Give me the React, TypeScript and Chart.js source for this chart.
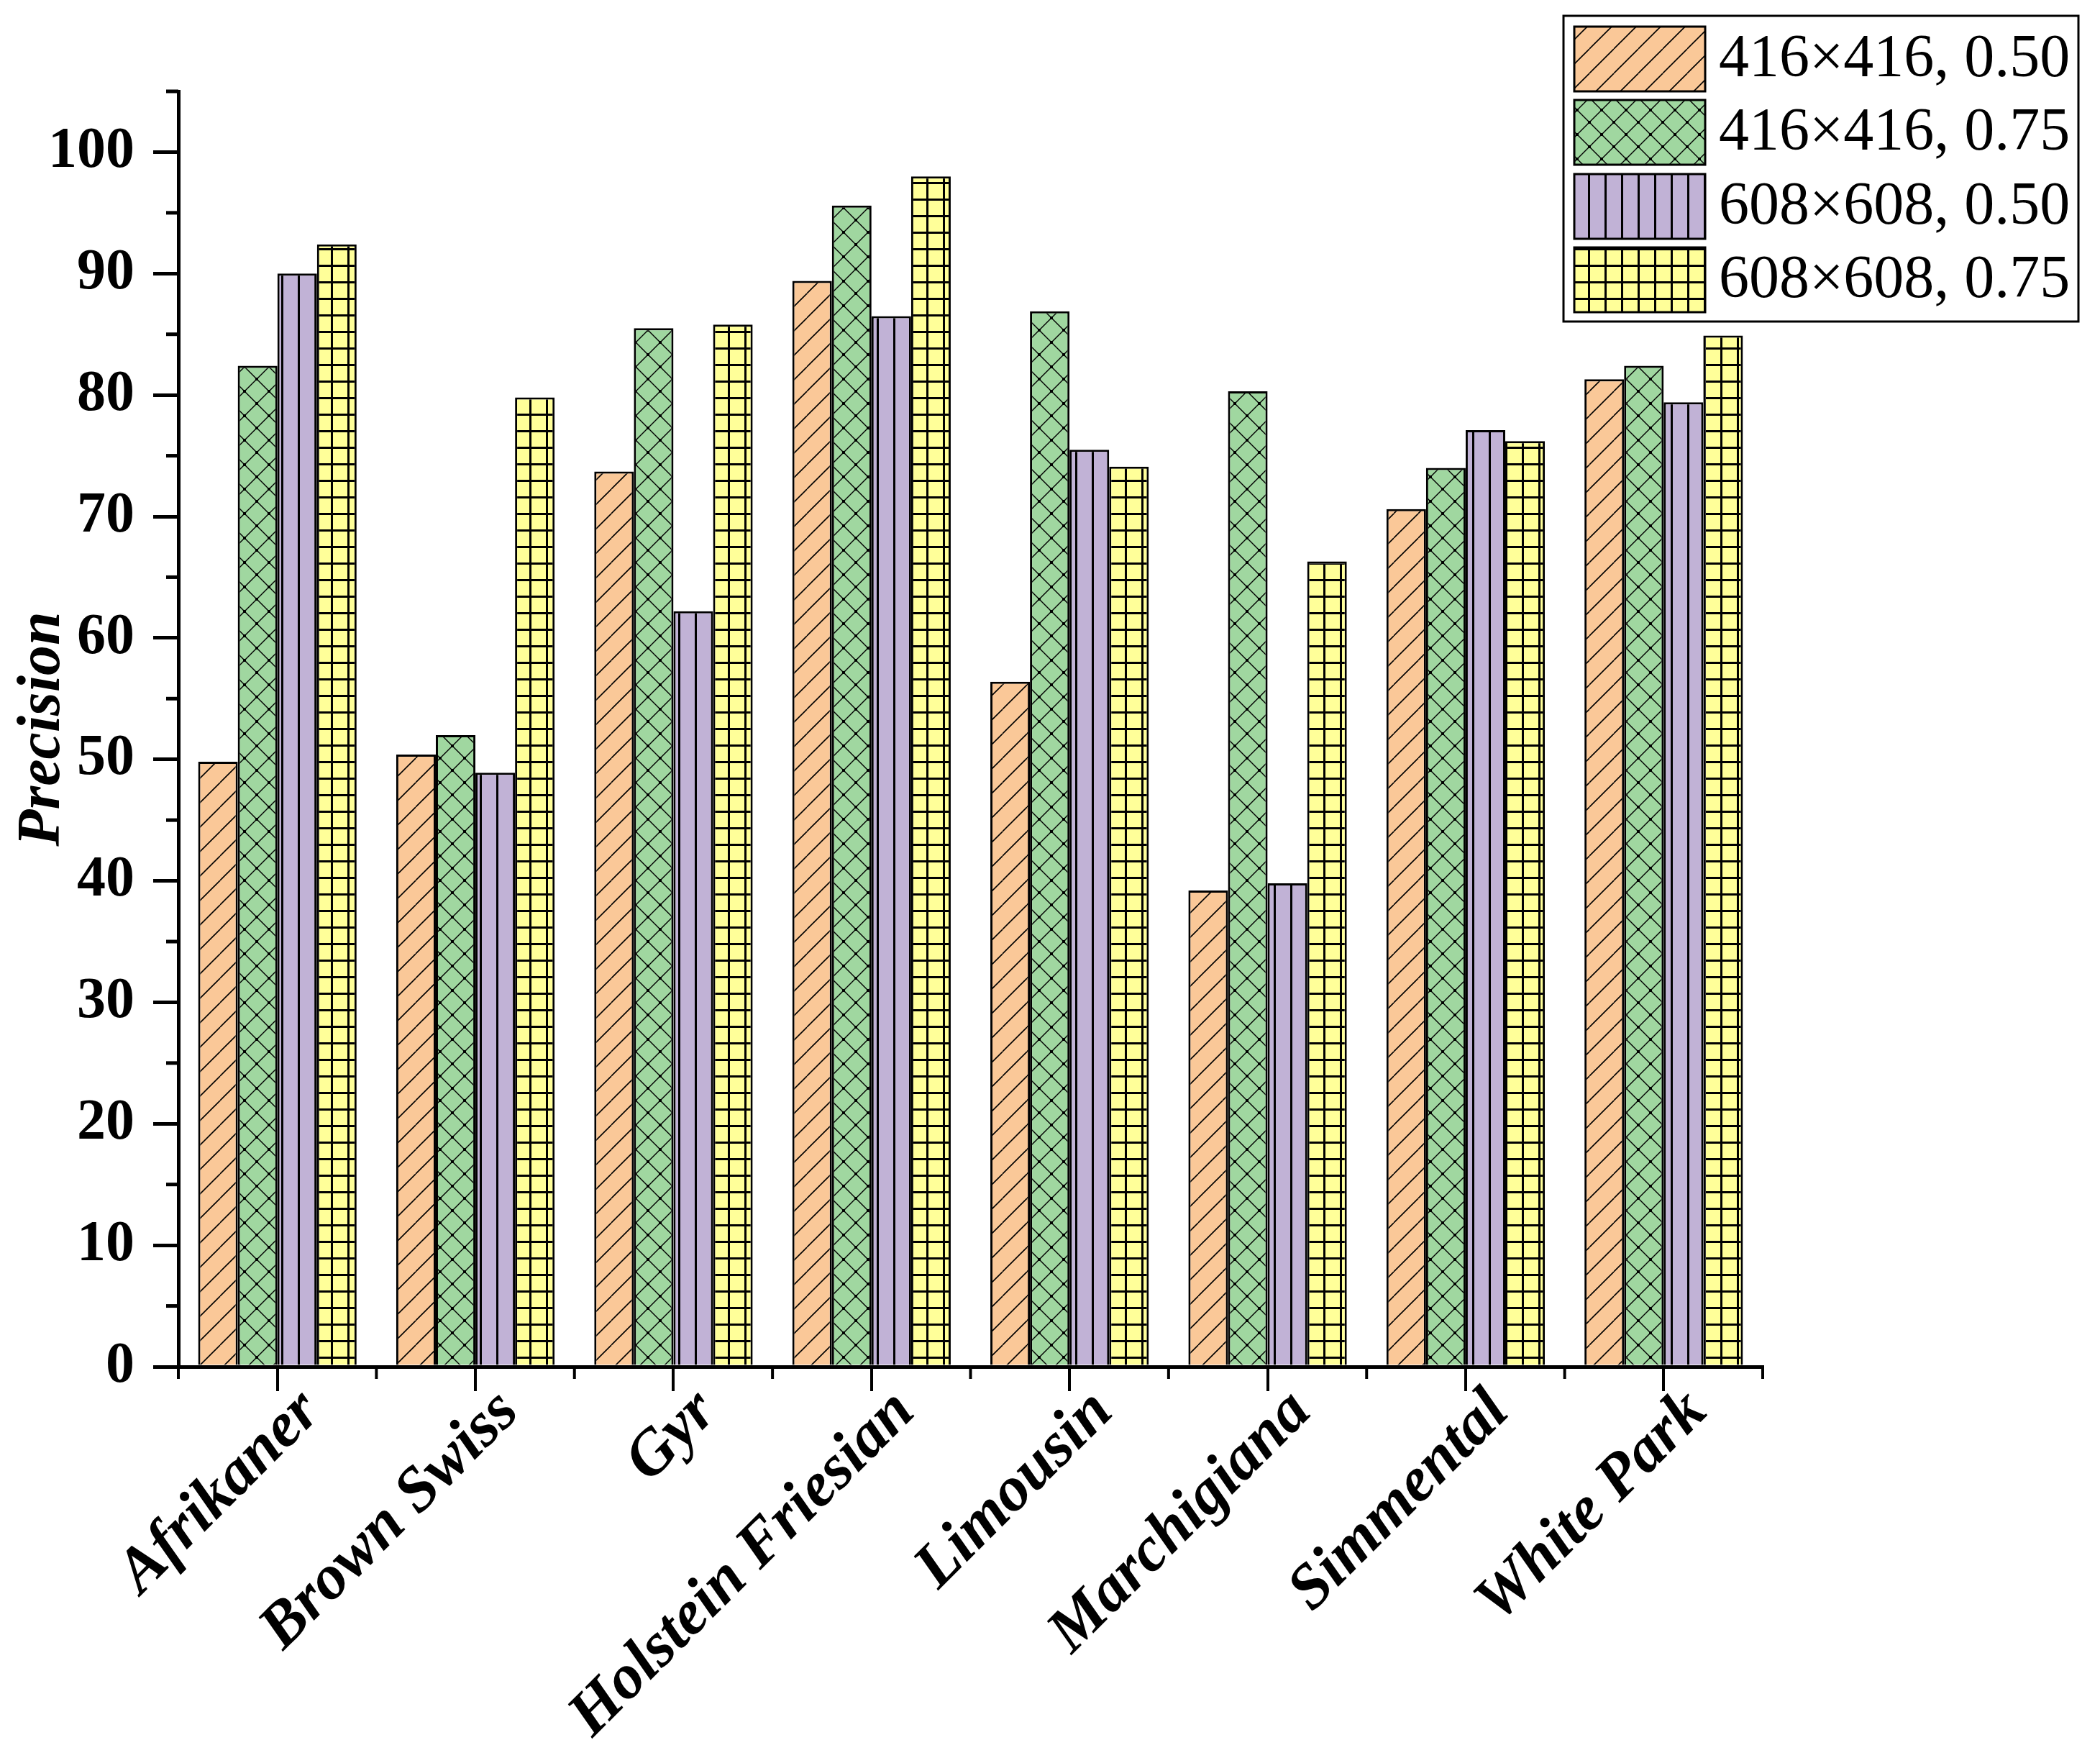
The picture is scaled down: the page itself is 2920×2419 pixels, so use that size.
import React, { useEffect, useRef } from "react";
import { Chart, registerables } from "chart.js";

Chart.register(...registerables);

const categories = [
  "Afrikaner",
  "Brown Swiss",
  "Gyr",
  "Holstein Friesian",
  "Limousin",
  "Marchigiana",
  "Simmental",
  "White Park",
];
const seriesLabels = ["416×416, 0.50", "416×416, 0.75", "608×608, 0.50", "608×608, 0.75"];
const s416_050 = [49.8, 50.4, 73.7, 89.4, 56.4, 39.2, 70.6, 81.3];
const s416_075 = [82.4, 52.0, 85.5, 95.6, 86.9, 80.3, 74.0, 82.4];
const s608_050 = [90.0, 48.9, 62.2, 86.5, 75.5, 39.8, 77.1, 79.4];
const s608_075 = [92.4, 79.8, 85.8, 98.0, 74.1, 66.3, 76.2, 84.9];
const yTickValues = [0, 10, 20, 30, 40, 50, 60, 70, 80, 90, 100];
const yMinorValues = [5, 15, 25, 35, 45, 55, 65, 75, 85, 95, 105];

const W = 2920;
const H = 2419;

function makeTile(w: number, h: number, draw: (c: CanvasRenderingContext2D) => void) {
  const cv = document.createElement("canvas");
  cv.width = w;
  cv.height = h;
  const c = cv.getContext("2d")!;
  draw(c);
  return cv;
}

function patterns(ctx: CanvasRenderingContext2D) {
  const diag = makeTile(34, 34, (c) => {
    c.fillStyle = "rgb(250,200,152)";
    c.fillRect(0, 0, 34, 34);
    c.strokeStyle = "#000";
    c.lineWidth = 1.6;
    for (const o of [-34, 0, 34]) {
      c.beginPath();
      c.moveTo(0 + o, 34);
      c.lineTo(34 + o, 0);
      c.stroke();
    }
  });
  const cross = makeTile(34, 34, (c) => {
    c.fillStyle = "rgb(160,215,160)";
    c.fillRect(0, 0, 34, 34);
    c.strokeStyle = "#000";
    c.lineWidth = 1.4;
    for (const o of [-34, 0, 34]) {
      c.beginPath();
      c.moveTo(0 + o, 34);
      c.lineTo(34 + o, 0);
      c.stroke();
      c.beginPath();
      c.moveTo(0 + o, 0);
      c.lineTo(34 + o, 34);
      c.stroke();
    }
    c.fillStyle = "#000";
    for (const [x, y] of [[17, 17], [0, 0], [34, 0], [0, 34], [34, 34]]) {
      c.fillRect(x - 2, y - 2, 4, 4);
    }
  });
  const vert = makeTile(23, 4, (c) => {
    c.fillStyle = "rgb(193,178,214)";
    c.fillRect(0, 0, 23, 4);
    c.fillStyle = "#000";
    c.fillRect(0, 0, 3, 4);
  });
  const grid = makeTile(23, 23, (c) => {
    c.fillStyle = "rgb(255,255,153)";
    c.fillRect(0, 0, 23, 23);
    c.fillStyle = "#000";
    c.fillRect(0, 0, 3, 23);
    c.fillRect(0, 0, 23, 3);
  });
  return [diag, cross, vert, grid].map((t) => ctx.createPattern(t, "repeat")!);
}

const minorTicks = {
  id: "minorTicks",
  afterDraw(chart: any) {
    const { ctx, scales } = chart;
    const x = scales.x;
    const y = scales.y;
    ctx.save();
    ctx.strokeStyle = "#000";
    ctx.lineWidth = 5;
    for (const v of yMinorValues) {
      const py = y.getPixelForValue(v);
      ctx.beginPath();
      ctx.moveTo(x.left, py);
      ctx.lineTo(x.left - 17, py);
      ctx.stroke();
    }
    ctx.lineWidth = 4;
    for (let i = 0; i <= categories.length; i++) {
      const px = x.getPixelForValue(i - 0.5);
      ctx.beginPath();
      ctx.moveTo(px, y.bottom);
      ctx.lineTo(px, y.bottom + 17);
      ctx.stroke();
    }
    ctx.restore();
  },
};

const customLegend = {
  id: "customLegend",
  afterDraw(chart: any) {
    const { ctx } = chart;
    const ds = chart.data.datasets;
    ctx.save();
    ctx.fillStyle = "#fff";
    ctx.fillRect(2174, 22, 716, 425);
    ctx.strokeStyle = "#000";
    ctx.lineWidth = 3;
    ctx.strokeRect(2174, 22, 716, 425);
    const rowTops = [37, 139, 242, 344];
    ds.forEach((d: any, i: number) => {
      const top = rowTops[i];
      ctx.fillStyle = d.backgroundColor;
      ctx.fillRect(2189, top, 182, 90);
      ctx.lineWidth = 3;
      ctx.strokeStyle = "#000";
      ctx.strokeRect(2189, top, 182, 90);
      ctx.fillStyle = "#000";
      ctx.font = '84px "Liberation Serif"';
      ctx.textBaseline = "middle";
      ctx.textAlign = "left";
      ctx.fillText(d.label, 2390, top + 47);
    });
    ctx.restore();
  },
};

export default function App() {
  const ref = useRef<HTMLCanvasElement>(null);
  useEffect(() => {
    const canvas = ref.current!;
    const ctx = canvas.getContext("2d")!;
    const pats = patterns(ctx);
    const values = [s416_050, s416_075, s608_050, s608_075];
    const chart = new Chart(canvas, {
      type: "bar",
      data: {
        labels: categories,
        datasets: values.map((v, i) => ({
          label: seriesLabels[i],
          data: v,
          backgroundColor: pats[i] as any,
          borderColor: "#000",
          borderWidth: 3,
          borderSkipped: "start",
          barPercentage: 1,
          categoryPercentage: 0.8,
        })),
      },
      options: {
        responsive: false,
        devicePixelRatio: 1,
        animation: false,
        layout: { padding: { top: 127, right: 469, left: 0, bottom: 0 } },
        plugins: {
          legend: { display: false },
          tooltip: { enabled: false },
        },
        scales: {
          x: {
            offset: true,
            grid: {
              display: true,
              offset: false,
              drawOnChartArea: false,
              drawTicks: true,
              tickLength: 34,
              lineWidth: 4,
              color: "#000",
            },
            border: { display: true, color: "#000", width: 5 },
            ticks: {
              autoSkip: false,
              minRotation: 45,
              maxRotation: 45,
              padding: -22,
              labelOffset: 47,
              color: "#000",
              font: { family: '"Liberation Serif"', size: 88, weight: "bold", style: "italic" },
            },
            afterFit: (s: any) => {
              s.height = H - 1900;
            },
          },
          y: {
            min: 0,
            max: 105,
            afterBuildTicks: (s: any) => {
              s.ticks = yTickValues.map((v) => ({ value: v }));
            },
            grid: {
              display: true,
              drawOnChartArea: false,
              drawTicks: true,
              tickLength: 35,
              lineWidth: 5,
              color: "#000",
            },
            border: { display: true, color: "#000", width: 5 },
            ticks: {
              padding: 26,
              color: "#000",
              font: { family: '"Liberation Serif"', size: 80, weight: "bold" },
            },
            title: {
              display: true,
              text: "Precision",
              color: "#000",
              padding: { top: 10, bottom: 0 },
              font: { family: '"Liberation Serif"', size: 84, weight: "bold", style: "italic" },
            },
            afterFit: (s: any) => {
              s.width = 248;
            },
          },
        },
      },
      plugins: [minorTicks, customLegend],
    });
    return () => chart.destroy();
  }, []);
  return (
    <div style={{ position: "absolute", left: 0, top: 0, width: W, height: H, background: "#fff" }}>
      <canvas ref={ref} width={W} height={H} style={{ display: "block", width: W, height: H }} />
    </div>
  );
}
